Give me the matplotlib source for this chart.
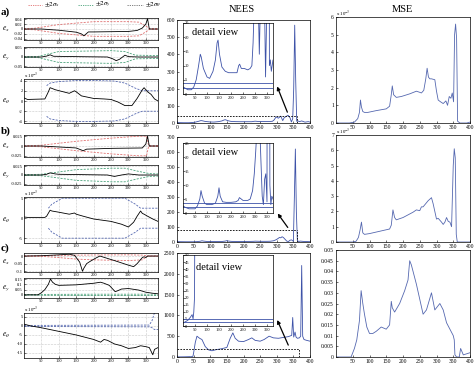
import numpy as np
import matplotlib.pyplot as plt
from matplotlib.lines import Line2D

plt.rcParams['font.family'] = ['Liberation Serif', 'DejaVu Serif']
plt.rcParams['mathtext.fontset'] = 'stix'
plt.rcParams['xtick.direction'] = 'in'
plt.rcParams['ytick.direction'] = 'in'
plt.rcParams['xtick.major.size'] = 1.5
plt.rcParams['ytick.major.size'] = 1.5
plt.rcParams['xtick.major.pad'] = 1.5
plt.rcParams['ytick.major.pad'] = 1.5
plt.rcParams['axes.linewidth'] = 0.5

# ---------------- data ----------------
# row a : pose errors
a_ex_t = [0, 50, 100, 150, 165, 172, 185, 200, 250, 300, 325, 340, 350, 355, 360, 385]
a_ex = [0, 0, -0.005, -0.013, -0.02, -0.028, -0.012, -0.012, -0.011, -0.010, -0.006, 0.004, 0.02, 0.042, 0.0, 0.0]
a_sx_t = [0, 30, 100, 200, 300, 330, 350, 360, 385]
a_sx = [0.002, 0.003, 0.018, 0.03, 0.03, 0.028, 0.012, 0.002, 0.002]
a_ey_t = [0, 50, 65, 75, 85, 150, 240, 255, 265, 275, 290, 300, 330, 385]
a_ey = [0, 0, 0.005, 0.012, 0.004, 0.002, 0.0, -0.01, -0.02, -0.012, 0.01, 0.002, 0, 0]
a_sy_t = [0, 40, 100, 250, 290, 320, 385]
a_sy = [0.002, 0.003, 0.03, 0.035, 0.03, 0.01, 0.008]
# theta values in units of 1e-3
a_eth_t = [0, 10, 60, 68, 75, 90, 130, 145, 150, 165, 200, 230, 250, 270, 290, 310, 325, 340, 345, 355, 365, 375, 385]
a_eth = [0.6, 0.3, 0.4, 1.5, 2.6, 2.2, 1.5, 2.0, 1.8, 1.0, 0.5, 0.4, 0.3, -0.2, -0.9, -0.9, 0.5, 2.2, 2.6, 1.8, 1.3, 0.4, 0.0]
a_sth_t = [65, 75, 100, 150, 200, 260, 290, 320, 340, 360, 385]
a_sth = [3.0, 3.5, 3.8, 4.0, 4.0, 3.9, 3.5, 2.5, 2.0, 2.0, 2.0]

# row b : pose errors
b_ex_t = [0, 50, 150, 170, 180, 250, 340, 350, 355, 360, 385]
b_ex = [0, 0, -0.005, -0.012, -0.008, -0.006, -0.005, 0.005, 0.025, 0.0, 0.0]
b_sx_t = [0, 50, 150, 250, 330, 352, 358, 385]
b_sx = [0.0005, 0.002, 0.012, 0.02, 0.025, 0.025, 0.001, 0.001]
b_ey_t = [0, 50, 65, 75, 90, 100, 240, 260, 280, 300, 330, 385]
b_ey = [0, 0, 0.002, 0.006, 0.003, 0.002, 0.0, -0.004, 0.0, 0.003, 0.0, 0.0]
b_sy_t = [0, 50, 150, 250, 290, 330, 360, 385]
b_sy = [0.001, 0.002, 0.015, 0.019, 0.019, 0.01, 0.004, 0.003]
b_eth_t = [0, 10, 60, 65, 75, 80, 100, 130, 145, 150, 170, 200, 250, 280, 300, 315, 325, 335, 340, 345, 355, 370, 385]
b_eth = [0.3, 0.2, 0.2, 0.5, 2.0, 1.8, 1.5, 1.0, 1.3, 1.0, 0.5, -0.2, -0.8, -1.5, -2.2, -1.0, 0.5, 1.8, 1.2, 1.0, 0.5, -0.2, -0.8]
b_sth_t = [70, 80, 110, 200, 290, 320, 335, 385]
b_sth = [2.5, 3.5, 5.0, 5.0, 5.0, 3.5, 2.5, 2.5]

# row c : pose errors
c_ex_t = [0, 50, 100, 130, 145, 160, 168, 172, 180, 190, 205, 218, 225, 260, 300, 315, 325, 340, 345, 350, 355, 385]
c_ex = [0, 0.002, 0.008, 0.012, 0.005, -0.04, -0.1, -0.08, -0.05, -0.035, -0.015, 0.0, -0.005, -0.03, -0.06, -0.07, -0.05, -0.01, -0.005, -0.01, 0.0, 0.0]
c_sx_t = [0, 50, 100, 150, 200, 300, 340, 355, 385]
c_sx_hi = [0.001, 0.002, 0.004, 0.006, 0.007, 0.008, 0.006, 0.001, 0.001]
c_sx_lo = [-0.001, -0.002, -0.01, -0.02, -0.025, -0.03, -0.025, -0.001, -0.001]
c_ey_t = [0, 40, 50, 60, 70, 76, 82, 90, 100, 150, 200, 220, 230, 245, 262, 270, 280, 300, 330, 350, 370, 385]
c_ey = [0, 0, 0.02, 0.05, 0.1, 0.15, 0.12, 0.1, 0.09, 0.095, 0.11, 0.12, 0.11, 0.09, 0.03, 0.04, 0.055, 0.06, 0.045, 0.025, 0.015, 0.01]
c_sy_t = [0, 50, 200, 385]
c_sy = [0.002, 0.004, 0.006, 0.006]
c_eth_t = [0, 20, 50, 100, 150, 180, 200, 220, 230, 240, 260, 280, 300, 320, 335, 350, 360, 370, 375, 385]
c_eth = [1, 0, -1, -3, -5, -6.5, -7.5, -9, -7.5, -8, -10, -11, -12.5, -12, -11, -11.5, -12, -16, -13, -12]
c_sth_t = [0, 360, 368, 375, 385]
c_sth_hi = [0.3, 0.5, 3.0, 7.5, 7.5]
c_sth_lo = [-0.3, -0.5, -1.0, -2.0, -2.0]

# NEES series
a_nees_t = [0, 10, 20, 35, 45, 55, 65, 72, 76, 85, 100, 111, 125, 135, 142, 146, 152, 162, 176, 190, 205, 225,
            232, 236, 243, 255, 270, 280, 287, 292, 298, 305, 312, 318, 322, 328, 334, 340, 344, 348, 351, 354,
            357, 360, 364, 368, 375, 385, 395, 400]
a_nees = [2.5, 2, 1.5, 1.5, 2.5, 5, 10, 14, 13, 9, 6, 5.5, 8, 12, 18, 19, 14, 9.5, 8, 7.5, 7.5, 7.5,
          10, 10.5, 9, 9, 8.5, 9, 10, 18, 35, 28, 40, 14, 30, 38, 45, 30, 6, 25, 200, 570,
          250, 10, 12, 8, 12, 5, 8, 5]
b_nees_t = [0, 10, 25, 50, 60, 70, 75, 80, 90, 100, 120, 135, 145, 150, 155, 165, 180, 200, 220, 230, 235, 250,
            270, 280, 290, 297, 303, 308, 312, 316, 320, 325, 330, 335, 340, 345, 350, 353, 356, 359, 362, 366,
            370, 380, 390, 400]
b_nees = [2.5, 2, 1.5, 1.5, 2.5, 5, 8, 6, 3.5, 3, 3, 3.5, 6, 9, 6, 4, 3.8, 3.8, 4, 4.5, 5.5, 4.5,
          4.5, 5, 8, 14, 22, 30, 28, 35, 30, 18, 6, 3, 12, 14, 4, 300, 620, 200, 10, 3,
          6, 4, 3, 2]
c_nees_t = [0, 10, 20, 30, 38, 42, 45, 48, 50, 55, 60, 68, 75, 85, 95, 105, 120, 135, 150, 160, 168, 175, 185,
            200, 215, 225, 235, 250, 262, 277, 290, 305, 320, 335, 345, 348, 351, 355, 358, 362, 368, 372, 375,
            378, 382, 390, 400]
c_nees = [2, 3, 4, 6, 8, 5, 10, 20, 100, 350, 500, 450, 420, 250, 170, 150, 180, 200, 230, 450, 580, 450, 380,
          370, 420, 460, 400, 380, 420, 500, 460, 450, 470, 490, 520, 950, 480, 600, 480, 450, 460, 500, 2200,
          500, 420, 400, 380]
chi_a = [2.1, 3.7]
chi_b = [2.1, 3.7]
chi_c = [3.0, 4.9]

# MSE series (a, b in units of 1e-3)
a_mse_t = [0, 40, 55, 65, 70, 73, 76, 80, 85, 95, 120, 150, 160, 165, 168, 172, 180, 195, 220, 240, 248, 255,
           262, 268, 272, 276, 280, 285, 295, 300, 305, 312, 320, 328, 333, 338, 343, 347, 351, 354, 357, 360,
           363, 370, 390, 400]
a_mse = [0, 0, 0.05, 0.25, 0.6, 1.3, 0.9, 0.65, 0.6, 0.6, 0.7, 0.8, 0.95, 1.6, 2.1, 1.6, 1.45, 1.5, 1.65, 1.8,
         1.75, 1.7, 1.85, 2.5, 3.1, 2.6, 2.5, 2.5, 2.45, 1.8, 1.3, 1.2, 1.1, 1.25, 1.0, 1.5, 1.4, 1.7, 1.2, 5.0,
         5.6, 4.8, 0.1, 0, 0, 0.05]
b_mse_t = [0, 50, 60, 67, 72, 76, 80, 85, 100, 130, 160, 165, 170, 175, 180, 200, 230, 240, 250, 255, 260, 275,
           285, 290, 295, 300, 305, 315, 320, 325, 330, 335, 340, 345, 350, 353, 356, 359, 362, 370, 400]
b_mse = [0, 0, 0.05, 0.3, 0.8, 1.3, 0.6, 0.5, 0.55, 0.7, 0.85, 1.1, 2.1, 1.6, 1.45, 1.6, 1.95, 2.1, 2.05, 2.3,
         2.3, 2.7, 2.9, 2.5, 2.0, 1.5, 1.55, 1.3, 1.15, 1.3, 1.6, 1.35, 1.3, 1.0, 5.0, 6.1, 5.5, 0.5, 0, 0, 0]
c_mse_t = [0, 45, 50, 55, 62, 70, 75, 80, 85, 92, 100, 110, 120, 135, 150, 160, 165, 168, 175, 190, 205, 215,
           220, 225, 230, 240, 250, 260, 270, 285, 295, 310, 320, 330, 340, 350, 353, 355, 360, 368, 372, 380, 400]
c_mse = [0, 0, 0.002, 0.004, 0.008, 0.017, 0.031, 0.025, 0.02, 0.014, 0.011, 0.011, 0.012, 0.014, 0.013,
         0.015, 0.026, 0.023, 0.021, 0.025, 0.031, 0.036, 0.045, 0.043, 0.04, 0.034, 0.027, 0.02, 0.022, 0.03,
         0.022, 0.025, 0.022, 0.016, 0.013, 0.01, 0.008, 0.001, 0.0, 0.0, 0.004, 0.001, 0.002]

# ---------------- figure ----------------
W, H = 474, 365
fig = plt.figure(figsize=(W / 100, H / 100), dpi=100)

RED = '#e07070'
GREEN = '#4aa27a'
BLUE = '#5568b0'
LINE = '#3d52a8'


def px_axes(l, t, r, b):
    return fig.add_axes([l / W, 1 - b / H, (r - l) / W, (b - t) / H])


def err_panel(box, t, e, st, hi, lo, color, ylim, yticks, ylabels, name, sci=False):
    ax = px_axes(*box)
    ax.plot(st, hi, ls=(0, (2.5, 1.5)), color=color, lw=0.6)
    ax.plot(st, lo, ls=(0, (2.5, 1.5)), color=color, lw=0.6)
    ax.plot(t, e, color='k', lw=0.6)
    ax.set_xlim(0, 385)
    ax.set_xticks([50, 100, 150, 200, 250, 300, 350])
    ax.set_ylim(ylim)
    ax.set_yticks(yticks)
    ax.set_yticklabels(ylabels)
    ax.tick_params(labelsize=3.2, length=1.2, width=0.4, pad=1)
    ax.grid(True, ls=':', color='#9a9a9a', lw=0.4)
    if sci:
        ax.text(0.0, 1.03, r'x 10$^{-3}$', transform=ax.transAxes, fontsize=3.5)
    fig.text(2 / W, 1 - (box[1] + box[3]) / 2 / H, name, fontsize=5.5, va='center', ha='left')
    return ax


def nees_panel(box, t, v, ylim, yticks, ibox, iylim, iyticks, chi, dash_y, dash_x, arr_tail, arr_head, txt_pos):
    ax = px_axes(*box)
    ax.plot(t, v, color=LINE, lw=0.6)
    ax.plot([0, dash_x], [dash_y, dash_y], ls=(0, (2, 1.5)), color='k', lw=0.6)
    ax.plot([dash_x, dash_x], [0, dash_y], ls=(0, (2, 1.5)), color='k', lw=0.6)
    ax.set_xlim(0, 400)
    ax.set_xticks(range(0, 401, 50))
    ax.set_ylim(ylim)
    ax.set_yticks(yticks)
    ax.tick_params(labelsize=4, length=1.5, width=0.4)
    ax.annotate('', xy=arr_head, xytext=arr_tail,
                arrowprops=dict(arrowstyle='-|>', color='k', lw=0.9, mutation_scale=5))
    ins = px_axes(*ibox)
    ins.plot(t, v, color=LINE, lw=0.6)
    for c in chi:
        ins.axhline(c, color=LINE, lw=0.6)
    ins.set_xlim(0, 375)
    ins.set_xticks([50, 100, 150, 200, 250, 300, 350])
    ins.set_ylim(iylim)
    ins.set_yticks(iyticks)
    ins.tick_params(labelsize=3.2, length=1.2, width=0.4)
    ins.tick_params(axis='y', pad=-1.5)
    for lbl in ins.get_yticklabels():
        lbl.set_horizontalalignment('left')
    ins.text(txt_pos[0], txt_pos[1], 'detail view', transform=ins.transAxes, fontsize=7.5, va='center')
    return ax


def mse_panel(box, t, v, ylim, yticks, ylabels, sci):
    ax = px_axes(*box)
    ax.plot(t, v, color=BLUE, lw=0.6)
    ax.set_xlim(0, 400)
    ax.set_xticks(range(50, 401, 50))
    ax.set_ylim(ylim)
    ax.set_yticks(yticks)
    ax.set_yticklabels(ylabels)
    ax.tick_params(labelsize=4, length=1.5, width=0.4)
    if sci:
        ax.text(0.0, 1.01, r'x 10$^{-3}$', transform=ax.transAxes, fontsize=3.5)
    return ax


# row a
err_panel((24, 18, 158, 40), a_ex_t, a_ex, a_sx_t, a_sx, [-s for s in a_sx], RED, (-0.045, 0.045),
          [-0.04, -0.02, 0, 0.02, 0.04], ['-0.04', '-0.02', '0', '0.02', '0.04'], r'$e_x$')
err_panel((24, 47, 158, 67), a_ey_t, a_ey, a_sy_t, a_sy, [-s for s in a_sy], GREEN, (-0.055, 0.055),
          [-0.05, 0, 0.05], ['-0.05', '0', '0.05'], r'$e_y$')
err_panel((24, 79, 158, 123), a_eth_t, a_eth, a_sth_t, a_sth, [-s for s in a_sth], BLUE, (-4.3, 4.3),
          [-4, -2, 0, 2, 4], ['-4', '-2', '0', '2', '4'], r'$e_\theta$', sci=True)
nees_panel((177, 20, 310, 123), a_nees_t, a_nees, (0, 600), range(0, 601, 100),
           (183, 23, 273, 94), (0, 25), [0, 5, 10, 15, 20, 25], chi_a, 42, 360,
           (335, 48), (298, 228), (0.1, 0.86))
mse_panel((336, 17, 470, 123), a_mse_t, a_mse, (0, 6), range(0, 7), [str(i) for i in range(7)], True)

# row b
err_panel((24, 135, 158, 157), b_ex_t, b_ex, b_sx_t, b_sx, [-s for s in b_sx], RED, (-0.028, 0.028),
          [-0.025, 0, 0.025], ['-0.025', '0', '0.025'], r'$e_x$')
err_panel((24, 165, 158, 185), b_ey_t, b_ey, b_sy_t, b_sy, [-s for s in b_sy], GREEN, (-0.028, 0.028),
          [-0.025, 0, 0.025], ['-0.025', '0', '0.025'], r'$e_y$')
err_panel((24, 197, 158, 243), b_eth_t, b_eth, b_sth_t, b_sth, [-s for s in b_sth], BLUE, (-6.2, 5.3),
          [-5, 0, 5], ['-5', '0', '5'], r'$e_\theta$', sci=True)
nees_panel((177, 137, 310, 242), b_nees_t, b_nees, (0, 700), range(0, 701, 100),
           (183, 143, 273, 213), (0, 25), [0, 5, 10, 15, 20, 25], chi_b, 82, 362,
           (338, 82), (298, 205), (0.1, 0.86))
mse_panel((336, 135, 470, 242), b_mse_t, b_mse, (0, 7), range(0, 8), [str(i) for i in range(8)], True)

# row c
err_panel((24, 253, 158, 272), c_ex_t, c_ex, c_sx_t, c_sx_hi, c_sx_lo, RED, (-0.105, 0.02),
          [-0.1, -0.05, 0], ['-0.1', '-0.05', '0'], r'$e_x$')
err_panel((24, 278, 158, 298), c_ey_t, c_ey, c_sy_t, c_sy, [-s for s in c_sy], GREEN, (-0.03, 0.16),
          [0, 0.05, 0.1, 0.15], ['0', '0.05', '0.1', '0.15'], r'$e_y$')
err_panel((24, 313, 158, 358), c_eth_t, c_eth, c_sth_t, c_sth_hi, c_sth_lo, BLUE, (-17.8, 7.2),
          [-15, -10, -5, 0, 5], ['-15', '-10', '-5', '0', '5'], r'$e_\theta$', sci=True)
nees_panel((177, 253, 310, 357), c_nees_t, c_nees, (0, 2500), range(0, 2501, 500),
           (183, 255, 273, 326), (0, 50), list(range(0, 51, 5)), chi_c, 200, 366,
           (338, 225), (298, 950), (0.14, 0.82))
mse_panel((336, 250, 470, 357), c_mse_t, c_mse, (0, 0.05), np.arange(0, 0.0501, 0.005),
          ['0', '0.005', '0.01', '0.015', '0.02', '0.025', '0.03', '0.035', '0.04', '0.045', '0.05'], False)

# titles, row labels and legend
fig.text(242 / W, 1 - 9 / H, 'NEES', fontsize=7.5, ha='center', va='center')
fig.text(402 / W, 1 - 9 / H, 'MSE', fontsize=7.5, ha='center', va='center')
for lab, y in [('a)', 12), ('b)', 131), ('c)', 248)]:
    fig.text(1 / W, 1 - y / H, lab, fontsize=8, fontweight='bold', va='center')

leg = [(28, 42, RED, r'$\pm2\sigma_x$'), (78, 93, GREEN, r'$\pm2\sigma_y$'), (127, 143, '#707070', r'$\pm2\sigma_\theta$')]
for x0, x1, col, txt in leg:
    fig.add_artist(Line2D([x0 / W, x1 / W], [1 - 5 / H, 1 - 5 / H], transform=fig.transFigure,
                          color=col, lw=0.6, ls=(0, (1.5, 1.2))))
    fig.text((x1 + 2) / W, 1 - 5 / H, txt, fontsize=5, va='center')

fig.savefig('out.png', dpi=100)
